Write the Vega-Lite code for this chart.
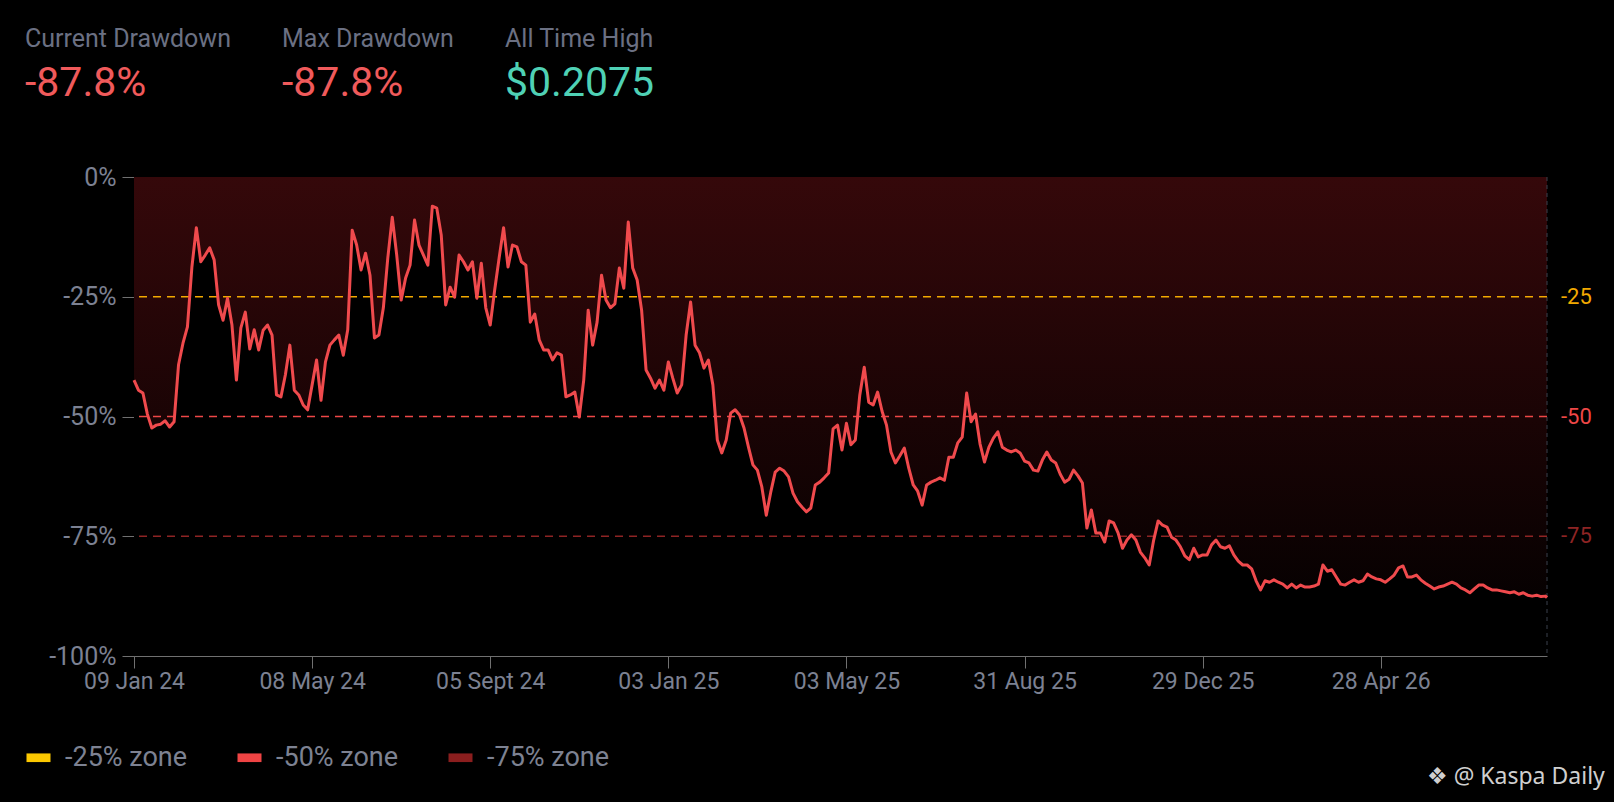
{
  "$schema": "https://vega.github.io/schema/vega-lite/v6.json",
  "background": "#000000",
  "padding": {"left": 25, "top": 27, "right": 10, "bottom": 16},
  "config": {
    "view": {"stroke": null},
    "font": "Roboto",
    "title": {"anchor": "start", "font": "Roboto", "fontSize": 25, "fontWeight": "normal", "color": "#6b7083", "subtitleFont": "Roboto", "subtitleFontSize": 41, "subtitlePadding": 12, "offset": 0},
    "axis": {"labelFont": "Roboto", "labelColor": "#7c8192", "domainColor": "#707070", "tickColor": "#707070", "tickSize": 12, "gridColor": "#3a404d", "gridDash": [4, 4], "title": null, "zindex": 1},
    "axisX": {"labelFontSize": 23, "labelPadding": 2},
    "axisY": {"labelFontSize": 25, "labelPadding": 6}
  },
  "datasets": {
    "zones": [
      {"zone": "-25% zone", "level": -25},
      {"zone": "-50% zone", "level": -50},
      {"zone": "-75% zone", "level": -75}
    ],
    "series": [
      {"date": "2024-01-09", "drawdown": -42.4}, {"date": "2024-01-12", "drawdown": -44.5}, {"date": "2024-01-15", "drawdown": -45.1}, {"date": "2024-01-18", "drawdown": -49.5},
      {"date": "2024-01-21", "drawdown": -52.4}, {"date": "2024-01-24", "drawdown": -51.8}, {"date": "2024-01-27", "drawdown": -51.6}, {"date": "2024-01-30", "drawdown": -50.9},
      {"date": "2024-02-02", "drawdown": -52.2}, {"date": "2024-02-05", "drawdown": -51.1}, {"date": "2024-02-08", "drawdown": -39.2}, {"date": "2024-02-11", "drawdown": -34.7},
      {"date": "2024-02-14", "drawdown": -31.3}, {"date": "2024-02-17", "drawdown": -18.8}, {"date": "2024-02-20", "drawdown": -10.6}, {"date": "2024-02-23", "drawdown": -17.7},
      {"date": "2024-02-26", "drawdown": -16.3}, {"date": "2024-02-29", "drawdown": -14.8}, {"date": "2024-03-03", "drawdown": -17.3}, {"date": "2024-03-06", "drawdown": -26.7},
      {"date": "2024-03-09", "drawdown": -29.9}, {"date": "2024-03-12", "drawdown": -25.3}, {"date": "2024-03-15", "drawdown": -30.9}, {"date": "2024-03-18", "drawdown": -42.4},
      {"date": "2024-03-21", "drawdown": -31.5}, {"date": "2024-03-24", "drawdown": -28.2}, {"date": "2024-03-27", "drawdown": -35.9}, {"date": "2024-03-30", "drawdown": -31.9},
      {"date": "2024-04-02", "drawdown": -36.1}, {"date": "2024-04-05", "drawdown": -32.0}, {"date": "2024-04-08", "drawdown": -30.9}, {"date": "2024-04-11", "drawdown": -33.0},
      {"date": "2024-04-14", "drawdown": -45.5}, {"date": "2024-04-17", "drawdown": -45.9}, {"date": "2024-04-20", "drawdown": -41.3}, {"date": "2024-04-23", "drawdown": -35.1},
      {"date": "2024-04-26", "drawdown": -44.5}, {"date": "2024-04-29", "drawdown": -45.5}, {"date": "2024-05-02", "drawdown": -47.6}, {"date": "2024-05-05", "drawdown": -48.6},
      {"date": "2024-05-08", "drawdown": -43.4}, {"date": "2024-05-11", "drawdown": -38.2}, {"date": "2024-05-14", "drawdown": -46.6}, {"date": "2024-05-17", "drawdown": -38.6},
      {"date": "2024-05-20", "drawdown": -35.1}, {"date": "2024-05-23", "drawdown": -34.0}, {"date": "2024-05-26", "drawdown": -33.0}, {"date": "2024-05-29", "drawdown": -37.2},
      {"date": "2024-06-01", "drawdown": -31.9}, {"date": "2024-06-04", "drawdown": -11.1}, {"date": "2024-06-07", "drawdown": -14.2}, {"date": "2024-06-10", "drawdown": -19.4},
      {"date": "2024-06-13", "drawdown": -15.9}, {"date": "2024-06-16", "drawdown": -20.5}, {"date": "2024-06-19", "drawdown": -33.6}, {"date": "2024-06-22", "drawdown": -33.0},
      {"date": "2024-06-25", "drawdown": -27.3}, {"date": "2024-06-28", "drawdown": -16.9}, {"date": "2024-07-01", "drawdown": -8.4}, {"date": "2024-07-04", "drawdown": -16.3},
      {"date": "2024-07-07", "drawdown": -25.7}, {"date": "2024-07-10", "drawdown": -21.1}, {"date": "2024-07-13", "drawdown": -18.4}, {"date": "2024-07-16", "drawdown": -9.0},
      {"date": "2024-07-19", "drawdown": -14.2}, {"date": "2024-07-22", "drawdown": -16.3}, {"date": "2024-07-25", "drawdown": -18.4}, {"date": "2024-07-28", "drawdown": -6.1},
      {"date": "2024-07-31", "drawdown": -6.5}, {"date": "2024-08-03", "drawdown": -12.1}, {"date": "2024-08-06", "drawdown": -26.7}, {"date": "2024-08-09", "drawdown": -23.0},
      {"date": "2024-08-12", "drawdown": -25.1}, {"date": "2024-08-15", "drawdown": -16.3}, {"date": "2024-08-18", "drawdown": -17.7}, {"date": "2024-08-21", "drawdown": -19.4},
      {"date": "2024-08-24", "drawdown": -17.7}, {"date": "2024-08-27", "drawdown": -25.3}, {"date": "2024-08-30", "drawdown": -18.0}, {"date": "2024-09-02", "drawdown": -27.3},
      {"date": "2024-09-05", "drawdown": -30.9}, {"date": "2024-09-08", "drawdown": -23.6}, {"date": "2024-09-11", "drawdown": -16.9}, {"date": "2024-09-14", "drawdown": -10.6},
      {"date": "2024-09-17", "drawdown": -18.8}, {"date": "2024-09-20", "drawdown": -14.2}, {"date": "2024-09-23", "drawdown": -14.6}, {"date": "2024-09-26", "drawdown": -17.7},
      {"date": "2024-09-29", "drawdown": -18.4}, {"date": "2024-10-02", "drawdown": -30.3}, {"date": "2024-10-05", "drawdown": -28.6}, {"date": "2024-10-08", "drawdown": -34.0},
      {"date": "2024-10-11", "drawdown": -36.1}, {"date": "2024-10-14", "drawdown": -36.1}, {"date": "2024-10-17", "drawdown": -38.2}, {"date": "2024-10-20", "drawdown": -36.7},
      {"date": "2024-10-23", "drawdown": -37.2}, {"date": "2024-10-26", "drawdown": -45.9}, {"date": "2024-10-29", "drawdown": -45.5}, {"date": "2024-11-01", "drawdown": -44.9},
      {"date": "2024-11-04", "drawdown": -50.1}, {"date": "2024-11-07", "drawdown": -42.4}, {"date": "2024-11-10", "drawdown": -27.8}, {"date": "2024-11-13", "drawdown": -35.1},
      {"date": "2024-11-16", "drawdown": -30.3}, {"date": "2024-11-19", "drawdown": -20.5}, {"date": "2024-11-22", "drawdown": -25.7}, {"date": "2024-11-25", "drawdown": -27.3},
      {"date": "2024-11-28", "drawdown": -26.5}, {"date": "2024-12-01", "drawdown": -19.0}, {"date": "2024-12-04", "drawdown": -23.2}, {"date": "2024-12-07", "drawdown": -9.4},
      {"date": "2024-12-10", "drawdown": -19.0}, {"date": "2024-12-13", "drawdown": -21.5}, {"date": "2024-12-16", "drawdown": -27.8}, {"date": "2024-12-19", "drawdown": -40.3},
      {"date": "2024-12-22", "drawdown": -42.0}, {"date": "2024-12-25", "drawdown": -44.1}, {"date": "2024-12-28", "drawdown": -42.4}, {"date": "2024-12-31", "drawdown": -44.5},
      {"date": "2025-01-03", "drawdown": -38.6}, {"date": "2025-01-06", "drawdown": -42.0}, {"date": "2025-01-09", "drawdown": -45.1}, {"date": "2025-01-12", "drawdown": -43.4},
      {"date": "2025-01-15", "drawdown": -33.0}, {"date": "2025-01-18", "drawdown": -26.1}, {"date": "2025-01-21", "drawdown": -35.1}, {"date": "2025-01-24", "drawdown": -36.7},
      {"date": "2025-01-27", "drawdown": -39.9}, {"date": "2025-01-30", "drawdown": -38.2}, {"date": "2025-02-02", "drawdown": -43.4}, {"date": "2025-02-05", "drawdown": -54.9},
      {"date": "2025-02-08", "drawdown": -57.6}, {"date": "2025-02-11", "drawdown": -54.9}, {"date": "2025-02-14", "drawdown": -49.3}, {"date": "2025-02-17", "drawdown": -48.6},
      {"date": "2025-02-20", "drawdown": -49.7}, {"date": "2025-02-23", "drawdown": -52.4}, {"date": "2025-02-26", "drawdown": -56.4}, {"date": "2025-03-01", "drawdown": -60.1},
      {"date": "2025-03-04", "drawdown": -61.2}, {"date": "2025-03-07", "drawdown": -64.7}, {"date": "2025-03-10", "drawdown": -70.6}, {"date": "2025-03-13", "drawdown": -65.8},
      {"date": "2025-03-16", "drawdown": -61.6}, {"date": "2025-03-19", "drawdown": -60.8}, {"date": "2025-03-22", "drawdown": -61.4}, {"date": "2025-03-25", "drawdown": -62.6},
      {"date": "2025-03-28", "drawdown": -66.0}, {"date": "2025-03-31", "drawdown": -67.8}, {"date": "2025-04-03", "drawdown": -68.9}, {"date": "2025-04-06", "drawdown": -69.9},
      {"date": "2025-04-09", "drawdown": -69.1}, {"date": "2025-04-12", "drawdown": -64.3}, {"date": "2025-04-15", "drawdown": -63.7}, {"date": "2025-04-18", "drawdown": -62.8},
      {"date": "2025-04-21", "drawdown": -61.8}, {"date": "2025-04-24", "drawdown": -52.6}, {"date": "2025-04-27", "drawdown": -51.8}, {"date": "2025-04-30", "drawdown": -57.0},
      {"date": "2025-05-03", "drawdown": -51.4}, {"date": "2025-05-06", "drawdown": -55.9}, {"date": "2025-05-09", "drawdown": -54.9}, {"date": "2025-05-12", "drawdown": -45.5},
      {"date": "2025-05-15", "drawdown": -39.7}, {"date": "2025-05-18", "drawdown": -47.0}, {"date": "2025-05-21", "drawdown": -47.6}, {"date": "2025-05-24", "drawdown": -44.9},
      {"date": "2025-05-27", "drawdown": -48.9}, {"date": "2025-05-30", "drawdown": -51.8}, {"date": "2025-06-02", "drawdown": -57.4}, {"date": "2025-06-05", "drawdown": -59.7},
      {"date": "2025-06-08", "drawdown": -58.2}, {"date": "2025-06-11", "drawdown": -56.6}, {"date": "2025-06-14", "drawdown": -60.8}, {"date": "2025-06-17", "drawdown": -64.3},
      {"date": "2025-06-20", "drawdown": -65.6}, {"date": "2025-06-23", "drawdown": -68.5}, {"date": "2025-06-26", "drawdown": -64.3}, {"date": "2025-06-29", "drawdown": -63.7},
      {"date": "2025-07-02", "drawdown": -63.3}, {"date": "2025-07-05", "drawdown": -62.8}, {"date": "2025-07-08", "drawdown": -63.3}, {"date": "2025-07-11", "drawdown": -58.5},
      {"date": "2025-07-14", "drawdown": -58.5}, {"date": "2025-07-17", "drawdown": -55.5}, {"date": "2025-07-20", "drawdown": -54.3}, {"date": "2025-07-23", "drawdown": -45.1},
      {"date": "2025-07-26", "drawdown": -51.1}, {"date": "2025-07-29", "drawdown": -49.5}, {"date": "2025-08-01", "drawdown": -55.7}, {"date": "2025-08-04", "drawdown": -59.5},
      {"date": "2025-08-07", "drawdown": -56.4}, {"date": "2025-08-10", "drawdown": -54.5}, {"date": "2025-08-13", "drawdown": -53.2}, {"date": "2025-08-16", "drawdown": -56.4},
      {"date": "2025-08-19", "drawdown": -57.0}, {"date": "2025-08-22", "drawdown": -57.4}, {"date": "2025-08-25", "drawdown": -57.0}, {"date": "2025-08-28", "drawdown": -57.6},
      {"date": "2025-08-31", "drawdown": -59.3}, {"date": "2025-09-03", "drawdown": -59.7}, {"date": "2025-09-06", "drawdown": -61.2}, {"date": "2025-09-09", "drawdown": -61.4},
      {"date": "2025-09-12", "drawdown": -59.1}, {"date": "2025-09-15", "drawdown": -57.4}, {"date": "2025-09-18", "drawdown": -59.1}, {"date": "2025-09-21", "drawdown": -59.7},
      {"date": "2025-09-24", "drawdown": -62.0}, {"date": "2025-09-27", "drawdown": -63.7}, {"date": "2025-09-30", "drawdown": -63.1}, {"date": "2025-10-03", "drawdown": -61.2},
      {"date": "2025-10-06", "drawdown": -62.4}, {"date": "2025-10-09", "drawdown": -63.9}, {"date": "2025-10-12", "drawdown": -73.3}, {"date": "2025-10-15", "drawdown": -69.5},
      {"date": "2025-10-18", "drawdown": -74.3}, {"date": "2025-10-21", "drawdown": -74.3}, {"date": "2025-10-24", "drawdown": -76.2}, {"date": "2025-10-27", "drawdown": -71.8},
      {"date": "2025-10-30", "drawdown": -72.2}, {"date": "2025-11-02", "drawdown": -74.3}, {"date": "2025-11-05", "drawdown": -77.5}, {"date": "2025-11-08", "drawdown": -75.8},
      {"date": "2025-11-11", "drawdown": -74.7}, {"date": "2025-11-14", "drawdown": -75.8}, {"date": "2025-11-17", "drawdown": -78.3}, {"date": "2025-11-20", "drawdown": -79.5},
      {"date": "2025-11-23", "drawdown": -81.0}, {"date": "2025-11-26", "drawdown": -75.8}, {"date": "2025-11-29", "drawdown": -71.8}, {"date": "2025-12-02", "drawdown": -72.7},
      {"date": "2025-12-05", "drawdown": -73.1}, {"date": "2025-12-08", "drawdown": -75.2}, {"date": "2025-12-11", "drawdown": -75.8}, {"date": "2025-12-14", "drawdown": -77.2},
      {"date": "2025-12-17", "drawdown": -79.1}, {"date": "2025-12-20", "drawdown": -79.9}, {"date": "2025-12-23", "drawdown": -77.5}, {"date": "2025-12-26", "drawdown": -79.3},
      {"date": "2025-12-29", "drawdown": -78.9}, {"date": "2026-01-01", "drawdown": -78.9}, {"date": "2026-01-04", "drawdown": -76.8}, {"date": "2026-01-07", "drawdown": -75.8},
      {"date": "2026-01-10", "drawdown": -77.2}, {"date": "2026-01-13", "drawdown": -77.5}, {"date": "2026-01-16", "drawdown": -77.0}, {"date": "2026-01-19", "drawdown": -78.9},
      {"date": "2026-01-22", "drawdown": -80.2}, {"date": "2026-01-25", "drawdown": -81.0}, {"date": "2026-01-28", "drawdown": -81.0}, {"date": "2026-01-31", "drawdown": -81.8},
      {"date": "2026-02-03", "drawdown": -84.3}, {"date": "2026-02-06", "drawdown": -86.2}, {"date": "2026-02-09", "drawdown": -84.3}, {"date": "2026-02-12", "drawdown": -84.6},
      {"date": "2026-02-15", "drawdown": -84.1}, {"date": "2026-02-18", "drawdown": -84.6}, {"date": "2026-02-21", "drawdown": -85.0}, {"date": "2026-02-24", "drawdown": -85.8},
      {"date": "2026-02-27", "drawdown": -85.0}, {"date": "2026-03-02", "drawdown": -85.8}, {"date": "2026-03-05", "drawdown": -85.2}, {"date": "2026-03-08", "drawdown": -85.6},
      {"date": "2026-03-11", "drawdown": -85.6}, {"date": "2026-03-14", "drawdown": -85.4}, {"date": "2026-03-17", "drawdown": -85.0}, {"date": "2026-03-20", "drawdown": -81.0},
      {"date": "2026-03-23", "drawdown": -82.3}, {"date": "2026-03-26", "drawdown": -82.0}, {"date": "2026-03-29", "drawdown": -83.5}, {"date": "2026-04-01", "drawdown": -85.0},
      {"date": "2026-04-04", "drawdown": -85.2}, {"date": "2026-04-07", "drawdown": -84.6}, {"date": "2026-04-10", "drawdown": -84.1}, {"date": "2026-04-13", "drawdown": -84.6},
      {"date": "2026-04-16", "drawdown": -84.3}, {"date": "2026-04-19", "drawdown": -82.9}, {"date": "2026-04-22", "drawdown": -83.5}, {"date": "2026-04-25", "drawdown": -83.9},
      {"date": "2026-04-28", "drawdown": -84.1}, {"date": "2026-05-01", "drawdown": -84.6}, {"date": "2026-05-04", "drawdown": -83.9}, {"date": "2026-05-07", "drawdown": -83.1},
      {"date": "2026-05-10", "drawdown": -81.6}, {"date": "2026-05-13", "drawdown": -81.2}, {"date": "2026-05-16", "drawdown": -83.5}, {"date": "2026-05-19", "drawdown": -83.5},
      {"date": "2026-05-22", "drawdown": -83.1}, {"date": "2026-05-25", "drawdown": -84.1}, {"date": "2026-05-28", "drawdown": -84.8}, {"date": "2026-05-31", "drawdown": -85.4},
      {"date": "2026-06-03", "drawdown": -86.0}, {"date": "2026-06-06", "drawdown": -85.6}, {"date": "2026-06-09", "drawdown": -85.4}, {"date": "2026-06-12", "drawdown": -85.0},
      {"date": "2026-06-15", "drawdown": -84.6}, {"date": "2026-06-18", "drawdown": -85.0}, {"date": "2026-06-21", "drawdown": -85.8}, {"date": "2026-06-24", "drawdown": -86.2},
      {"date": "2026-06-27", "drawdown": -86.8}, {"date": "2026-06-30", "drawdown": -86.0}, {"date": "2026-07-03", "drawdown": -85.2}, {"date": "2026-07-06", "drawdown": -85.2},
      {"date": "2026-07-09", "drawdown": -85.8}, {"date": "2026-07-12", "drawdown": -86.2}, {"date": "2026-07-15", "drawdown": -86.2}, {"date": "2026-07-18", "drawdown": -86.4},
      {"date": "2026-07-21", "drawdown": -86.6}, {"date": "2026-07-24", "drawdown": -86.8}, {"date": "2026-07-27", "drawdown": -86.6}, {"date": "2026-07-30", "drawdown": -87.1},
      {"date": "2026-08-02", "drawdown": -86.8}, {"date": "2026-08-05", "drawdown": -87.3}, {"date": "2026-08-08", "drawdown": -87.5}, {"date": "2026-08-11", "drawdown": -87.3},
      {"date": "2026-08-14", "drawdown": -87.6}, {"date": "2026-08-17", "drawdown": -87.5}, {"date": "2026-08-18", "drawdown": -87.8}
    ]
  },
  "title": {"text": "❖ @ Kaspa Daily", "orient": "bottom", "anchor": "end", "frame": "bounds", "font": "Noto Sans", "fontSize": 23, "fontWeight": "normal", "color": "#cfcfcf", "offset": -5, "dx": 13},
  "resolve": {"scale": {"color": "independent", "stroke": "independent", "fill": "independent"}, "legend": {"color": "independent"}},
  "spacing": 56,
  "vconcat": [
    {
      "spacing": 51,
      "hconcat": [
        {"width": 1, "height": 1, "data": {"values": [{}]}, "mark": {"type": "point", "opacity": 0, "size": 0},
         "title": {"text": "Current Drawdown", "subtitle": "-87.8%", "subtitleColor": "#f05a5b", "dx": -109}},
        {"width": 1, "height": 1, "data": {"values": [{}]}, "mark": {"type": "point", "opacity": 0, "size": 0},
         "title": {"text": "Max Drawdown", "subtitle": "-87.8%", "subtitleColor": "#f05a5b"}},
        {"width": 1, "height": 1, "data": {"values": [{}]}, "mark": {"type": "point", "opacity": 0, "size": 0},
         "title": {"text": "All Time High", "subtitle": "$0.2075", "subtitleColor": "#4fd1b5"}}
      ]
    },
    {
      "width": 1413,
      "height": 479,
      "layer": [
        {
          "data": {"name": "series"},
          "mark": {"type": "rect", "color": {"gradient": "linear", "x1": 0, "y1": 0, "x2": 0, "y2": 1, "stops": [{"offset": 0, "color": "#35080a"}, {"offset": 1, "color": "#000000"}]}},
          "encoding": {
            "x": {"aggregate": "min", "field": "date", "type": "temporal"},
            "x2": {"aggregate": "max", "field": "date"},
            "y": {"datum": 0, "type": "quantitative"},
            "y2": {"datum": -100}
          }
        },
        {
          "data": {"name": "series"},
          "mark": {"type": "area", "color": "#000000"},
          "encoding": {
            "x": {
              "field": "date", "type": "temporal",
              "scale": {"type": "utc", "nice": false},
              "axis": {
                "values": [
                  {"year": 2024, "month": 1, "date": 9, "utc": true},
                  {"year": 2024, "month": 5, "date": 8, "utc": true},
                  {"year": 2024, "month": 9, "date": 5, "utc": true},
                  {"year": 2025, "month": 1, "date": 3, "utc": true},
                  {"year": 2025, "month": 5, "date": 3, "utc": true},
                  {"year": 2025, "month": 8, "date": 31, "utc": true},
                  {"year": 2025, "month": 12, "date": 29, "utc": true},
                  {"year": 2026, "month": 4, "date": 28, "utc": true}
                ],
                "labelExpr": "replace(utcFormat(datum.value, '%d %b %y'), 'Sep ', 'Sept ')",
                "grid": true, "labelFlush": false
              }
            },
            "y": {
              "field": "drawdown", "type": "quantitative",
              "scale": {"domain": [-100, 0], "nice": false, "zero": false},
              "axis": {"values": [0, -25, -50, -75, -100], "labelExpr": "datum.value + '%'", "grid": true}
            },
            "y2": {"datum": -100}
          }
        },
        {
          "data": {"name": "series"},
          "mark": {"type": "rule", "color": "#3a404d", "strokeDash": [4, 4], "strokeWidth": 1},
          "encoding": {
            "x": {"aggregate": "max", "field": "date", "type": "temporal"},
            "y": {"datum": 0, "type": "quantitative"},
            "y2": {"datum": -100}
          }
        },
        {
          "data": {"name": "zones"},
          "mark": {"type": "square", "filled": true, "opacity": 0, "size": 1},
          "encoding": {
            "y": {"field": "level", "type": "quantitative"},
            "color": {
              "field": "zone", "type": "nominal",
              "scale": {"domain": ["-25% zone", "-50% zone", "-75% zone"], "range": ["#fcc800", "#ef4444", "#8b1e1e"]},
              "legend": {
                "orient": "none", "legendX": -109, "legendY": 567, "direction": "horizontal", "title": null,
                "symbolType": "M-1,-0.36H1V0.36H-1Z", "symbolSize": 576, "symbolOpacity": 1, "symbolStrokeWidth": 0,
                "labelFont": "Roboto", "labelFontSize": 27, "labelColor": "#7d8292", "labelOffset": 13, "columnPadding": 48
              }
            }
          }
        },
        {
          "data": {"name": "zones"},
          "mark": {"type": "rule", "strokeDash": [8, 6], "strokeWidth": 1.5},
          "encoding": {
            "y": {"field": "level", "type": "quantitative"},
            "stroke": {
              "field": "zone", "type": "nominal",
              "scale": {"domain": ["-25% zone", "-50% zone", "-75% zone"], "range": ["#f2a900", "#ef4747", "#8e2424"]},
              "legend": null
            }
          }
        },
        {
          "data": {"name": "zones"},
          "mark": {"type": "text", "align": "left", "baseline": "middle", "dx": 14, "fontSize": 22, "font": "Roboto"},
          "encoding": {
            "x": {"datum": {"year": 2026, "month": 8, "date": 18, "utc": true}, "type": "temporal"},
            "y": {"field": "level", "type": "quantitative"},
            "text": {"field": "level", "type": "nominal"},
            "fill": {
              "field": "zone", "type": "nominal",
              "scale": {"domain": ["-25% zone", "-50% zone", "-75% zone"], "range": ["#f2a900", "#ef4747", "#8e2424"]},
              "legend": null
            }
          }
        },
        {
          "data": {"name": "series"},
          "mark": {"type": "line", "color": "#f04a4d", "strokeWidth": 3, "strokeJoin": "round"},
          "encoding": {
            "x": {"field": "date", "type": "temporal"},
            "y": {"field": "drawdown", "type": "quantitative"}
          }
        }
      ]
    }
  ]
}
